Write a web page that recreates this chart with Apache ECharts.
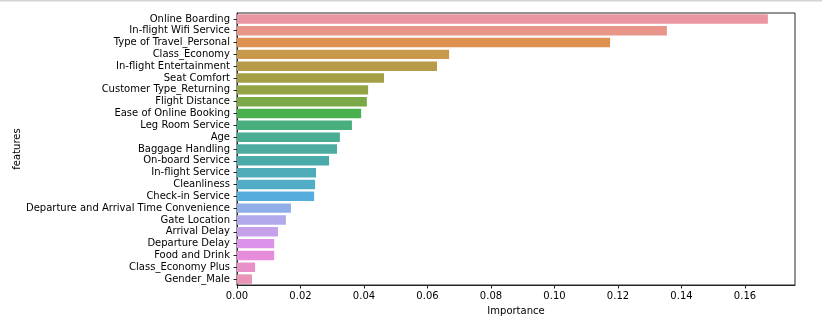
<!DOCTYPE html>
<html>
<head>
<meta charset="utf-8">
<script src="https://cdn.jsdelivr.net/npm/echarts@6/dist/echarts.min.js"></script>
<style>
  html, body { margin: 0; padding: 0; background: #fff; }
  #chart { width: 822px; height: 325px; }
</style>
</head>
<body>
<div id="chart"></div>
<script>
// Feature names, top to bottom
const features = [
  'Online Boarding', 'In-flight Wifi Service', 'Type of Travel_Personal', 'Class_Economy',
  'In-flight Entertainment', 'Seat Comfort', 'Customer Type_Returning', 'Flight Distance',
  'Ease of Online Booking', 'Leg Room Service', 'Age', 'Baggage Handling',
  'On-board Service', 'In-flight Service', 'Cleanliness', 'Check-in Service',
  'Departure and Arrival Time Convenience', 'Gate Location', 'Arrival Delay',
  'Departure Delay', 'Food and Drink', 'Class_Economy Plus', 'Gender_Male'
];

// Importance of each feature
const importance = [
  0.1672, 0.1354, 0.1175, 0.0668,
  0.0630, 0.0463, 0.0413, 0.0409,
  0.0391, 0.0362, 0.0324, 0.0315,
  0.0290, 0.0249, 0.0246, 0.0243,
  0.0170, 0.0154, 0.0129,
  0.0117, 0.0117, 0.0057, 0.0047
];

// Tick values on the importance axis
const xTicks = [0, 0.02, 0.04, 0.06, 0.08, 0.10, 0.12, 0.14, 0.16];

// ---- HUSL palette, then desaturated to 75% ----
const M = [[3.2406, -1.5372, -0.4986], [-0.9689, 1.8758, 0.0415], [0.0557, -0.2040, 1.0570]];
const refU = 0.19784, refV = 0.46834, labE = 0.008856, labK = 903.3;

function maxChroma(L, H) {
  const hr = H / 360 * 2 * Math.PI;
  const sinH = Math.sin(hr), cosH = Math.cos(hr);
  const sub1 = Math.pow(L + 16, 3) / 1560896;
  const sub2 = sub1 > labE ? sub1 : L / labK;
  let result = Infinity;
  for (const [m1, m2, m3] of M) {
    const top = (0.99915 * m1 + 1.05122 * m2 + 1.14460 * m3) * sub2;
    const rb = 0.86330 * m3 - 0.17266 * m2;
    const lb = 0.12949 * m3 - 0.38848 * m1;
    const bottom = (rb * sinH + lb * cosH) * sub2;
    for (const t of [0, 1]) {
      const C = L * (top - 1.05122 * t) / (bottom + 0.17266 * sinH * t);
      if (C > 0 && C < result) result = C;
    }
  }
  return result;
}
function fInv(t) { return Math.pow(t, 3) > labE ? Math.pow(t, 3) : (116 * t - 16) / labK; }
function fromLinear(c) { return c <= 0.0031308 ? 12.92 * c : 1.055 * Math.pow(c, 1 / 2.4) - 0.055; }
function huslToRgb(h, s, l) {
  const C = maxChroma(l, h) / 100 * s;
  const hr = h / 360 * 2 * Math.PI;
  const U = Math.cos(hr) * C, V = Math.sin(hr) * C;
  const Y = fInv((l + 16) / 116);
  const vu = U / (13 * l) + refU, vv = V / (13 * l) + refV;
  const X = 0 - (9 * Y * vu) / ((vu - 4) * vv - vu * vv);
  const Z = (9 * Y - 15 * vv * Y - vv * X) / (3 * vv);
  return M.map(r => Math.min(1, Math.max(0, fromLinear(r[0] * X + r[1] * Y + r[2] * Z))));
}
function rgbToHls(r, g, b) {
  const mx = Math.max(r, g, b), mn = Math.min(r, g, b);
  const l = (mx + mn) / 2;
  if (mx === mn) return [0, l, 0];
  const d = mx - mn;
  const s = l <= 0.5 ? d / (mx + mn) : d / (2 - mx - mn);
  const rc = (mx - r) / d, gc = (mx - g) / d, bc = (mx - b) / d;
  let h;
  if (r === mx) h = bc - gc; else if (g === mx) h = 2 + rc - bc; else h = 4 + gc - rc;
  h = ((h / 6) % 1 + 1) % 1;
  return [h, l, s];
}
function hlsToRgb(h, l, s) {
  if (s === 0) return [l, l, l];
  const m2 = l <= 0.5 ? l * (1 + s) : l + s - l * s;
  const m1 = 2 * l - m2;
  const v = (hue) => {
    hue = ((hue % 1) + 1) % 1;
    if (hue < 1 / 6) return m1 + (m2 - m1) * hue * 6;
    if (hue < 0.5) return m2;
    if (hue < 2 / 3) return m1 + (m2 - m1) * (2 / 3 - hue) * 6;
    return m1;
  };
  return [v(h + 1 / 3), v(h), v(h - 1 / 3)];
}
function palette(n) {
  const out = [];
  for (let i = 0; i < n; i++) {
    const h = ((i / n + 0.01) % 1) * 359;
    const rgb = huslToRgb(h, 0.9 * 99, 0.7 * 99);
    const [hh, ll, ss] = rgbToHls(...rgb);
    const d = hlsToRgb(hh, ll, ss * 0.75);
    out.push('rgb(' + d.map(c => Math.round(c * 255)).join(',') + ')');
  }
  return out;
}
const colors = palette(features.length);

const font = 'DejaVu Sans';
const chart = echarts.init(document.getElementById('chart'), null, { renderer: 'canvas' });
chart.setOption({
  animation: false,
  backgroundColor: '#ffffff',
  graphic: [{
    type: 'rect', left: 0, top: 0,
    shape: { width: 822, height: 1.5 },
    style: { fill: '#d4d4d4' }, silent: true
  }],
  grid: {
    left: 237, right: 27, top: 13, bottom: 40,
    outerBoundsMode: 'none',
    show: true, borderColor: '#262626', borderWidth: 1, backgroundColor: 'transparent'
  },
  xAxis: {
    type: 'value',
    min: 0, max: 0.17575, interval: 0.02,
    name: 'Importance', nameLocation: 'middle', nameGap: 21,
    nameTextStyle: { fontFamily: font, fontSize: 10, color: '#000' },
    splitLine: { show: false },
    axisLine: { show: true, lineStyle: { color: '#262626', width: 1 } },
    axisTick: { show: true, length: 3.5, lineStyle: { color: '#262626' }, customValues: xTicks },
    axisLabel: {
      fontFamily: font, fontSize: 10, color: '#000', margin: 6,
      customValues: xTicks,
      formatter: v => v.toFixed(2)
    }
  },
  yAxis: {
    type: 'category',
    data: features,
    inverse: true,
    name: 'features', nameLocation: 'middle', nameGap: 215, nameRotate: 90,
    nameMoveOverlap: false,
    nameTextStyle: { fontFamily: font, fontSize: 10, color: '#000' },
    axisLine: { show: true, lineStyle: { color: '#262626', width: 1 } },
    axisTick: { show: true, length: 3.5, alignWithLabel: true, lineStyle: { color: '#262626' } },
    axisLabel: { fontFamily: font, fontSize: 10, color: '#000', margin: 7, interval: 0 },
    splitLine: { show: false }
  },
  series: [{
    type: 'bar',
    data: importance.map((v, i) => ({ value: v, itemStyle: { color: colors[i] } })),
    barCategoryGap: '20%'
  }]
});
</script>
</body>
</html>
